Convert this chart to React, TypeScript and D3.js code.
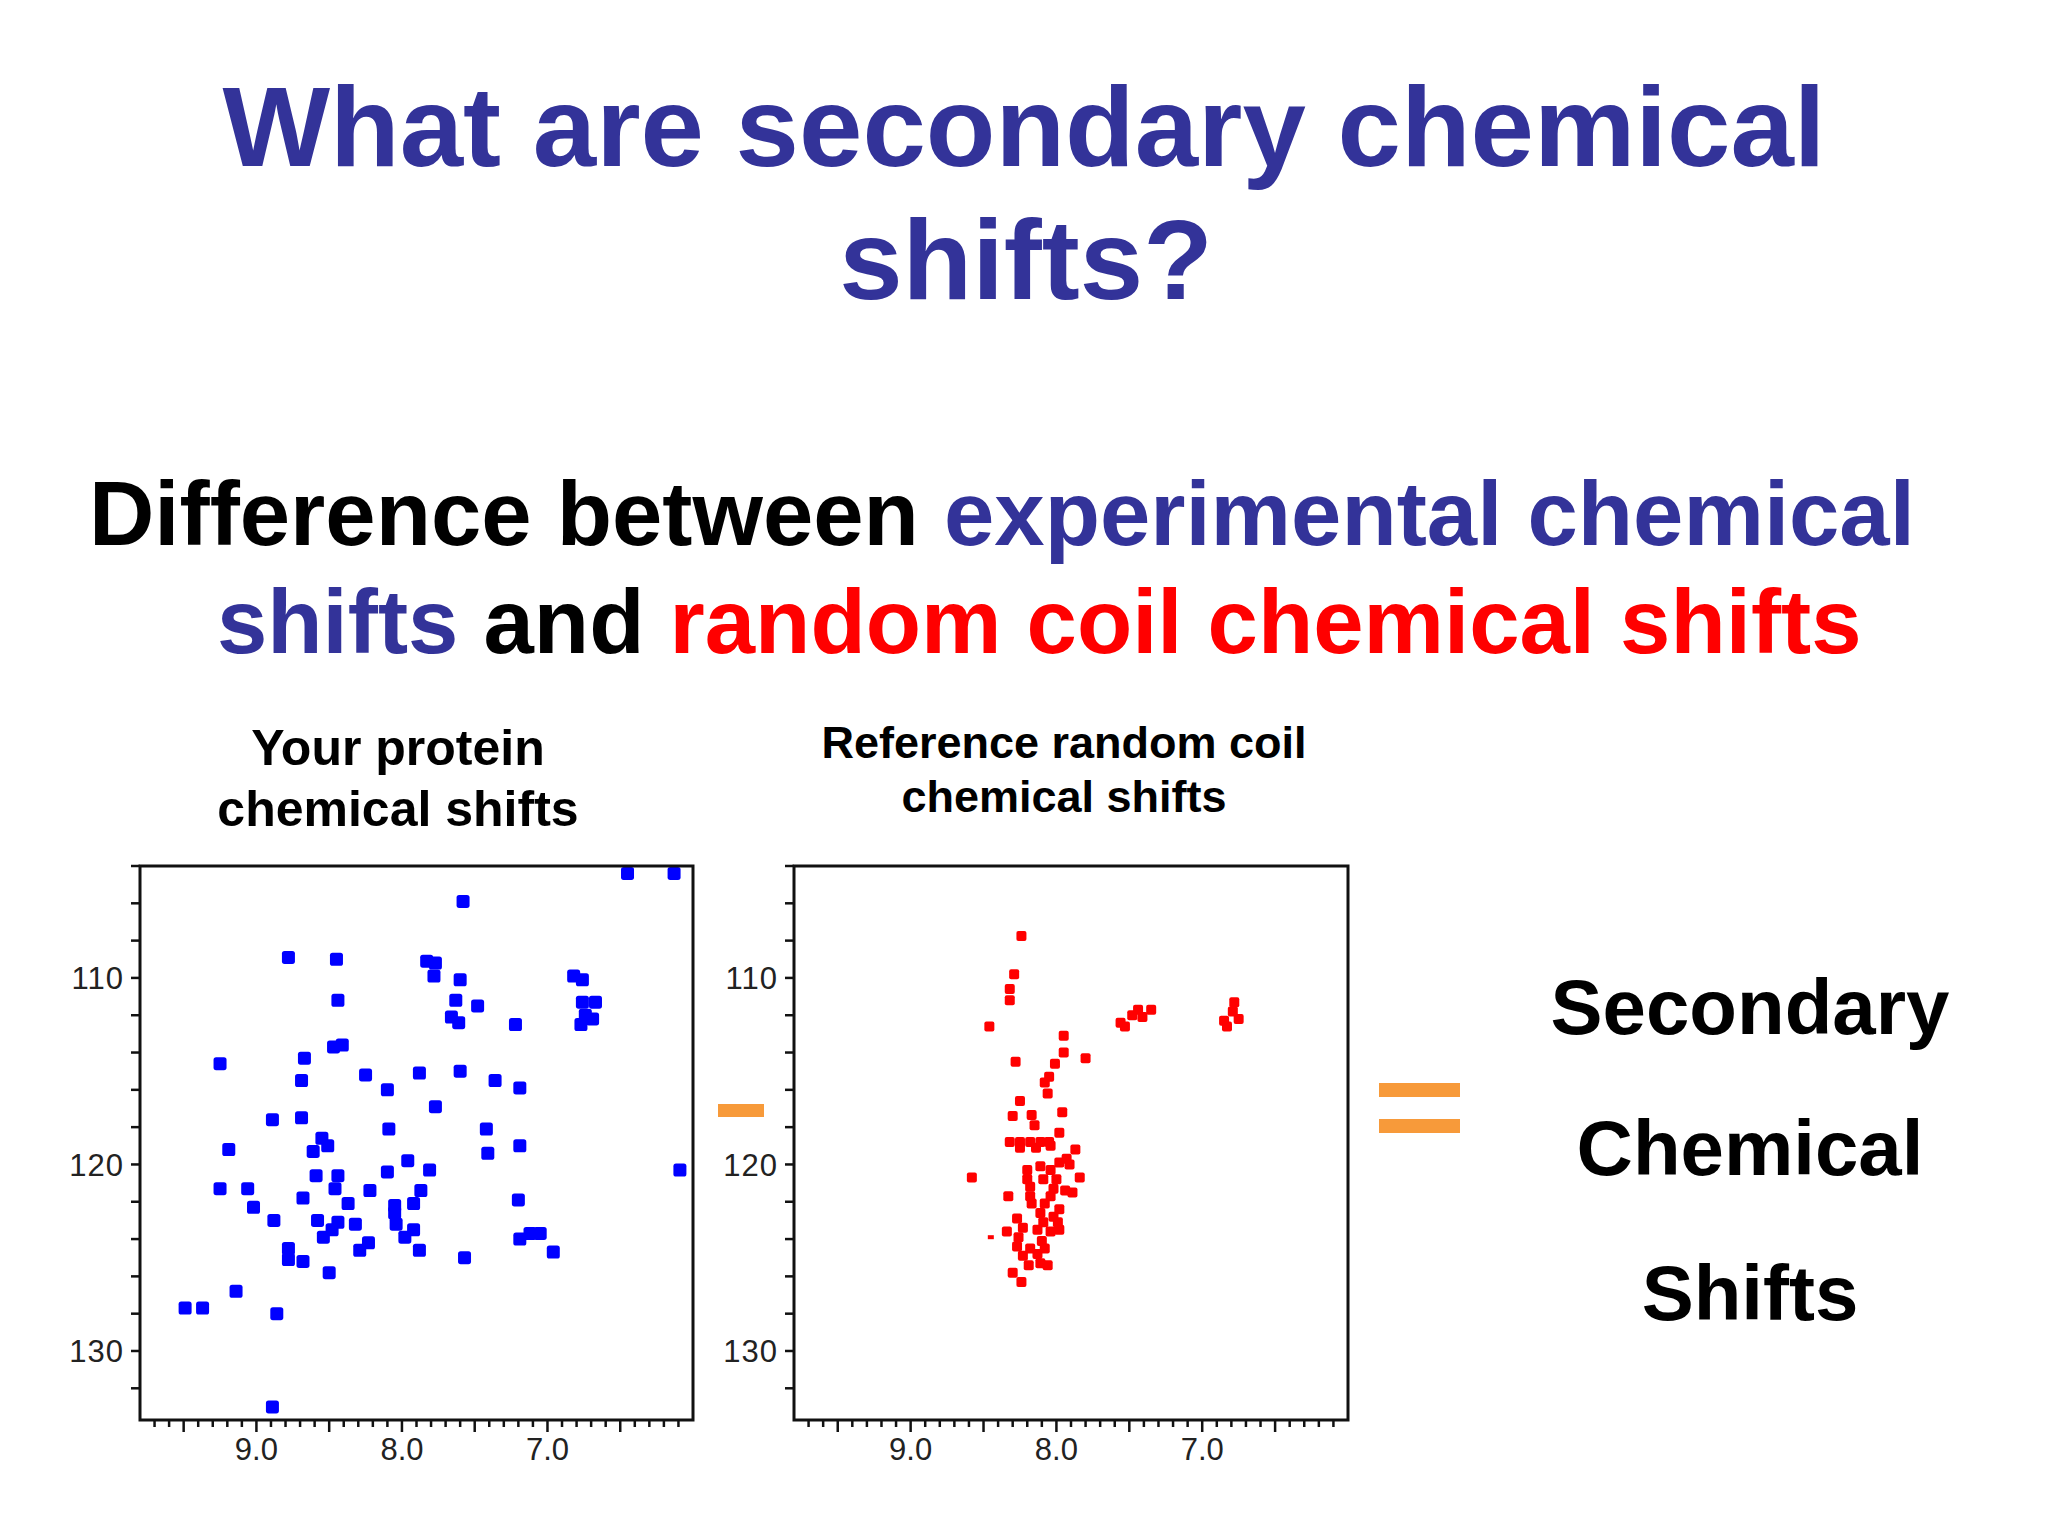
import React from 'react';
import * as d3 from 'd3';

// 1H (ppm), 15N (ppm) peak positions
const proteinPeaks: [number, number][] = [
  [6.45, 104.4], [6.13, 104.4], [7.58, 105.9], [8.78, 108.9], [8.45, 109.0],
  [7.83, 109.1], [7.77, 109.2], [7.78, 109.9], [7.6, 110.1], [6.82, 109.9],
  [6.76, 110.1], [8.44, 111.2], [7.63, 111.2], [7.48, 111.5], [7.66, 112.1],
  [7.61, 112.4], [7.22, 112.5], [6.76, 111.3], [6.67, 111.3], [6.74, 112.0],
  [6.69, 112.2], [6.77, 112.5], [8.47, 113.7], [8.41, 113.6], [9.25, 114.6],
  [8.67, 114.3], [8.25, 115.2], [8.69, 115.5], [7.88, 115.1], [7.6, 115.0],
  [7.36, 115.5], [7.19, 115.9], [8.1, 116.0], [7.77, 116.9], [8.89, 117.6],
  [8.69, 117.5], [8.09, 118.1], [7.42, 118.1], [8.55, 118.6], [8.51, 119.0],
  [8.61, 119.3], [9.19, 119.2], [7.19, 119.0], [7.41, 119.4], [7.96, 119.8],
  [7.81, 120.3], [8.1, 120.4], [8.59, 120.6], [8.44, 120.6], [9.25, 121.3],
  [9.06, 121.3], [8.46, 121.3], [8.22, 121.4], [7.87, 121.4], [9.02, 122.3],
  [8.68, 121.8], [8.37, 122.1], [7.92, 122.1], [8.05, 122.2], [8.05, 122.6],
  [7.2, 121.9], [8.88, 123.0], [8.58, 123.0], [8.44, 123.1], [8.32, 123.2],
  [8.04, 123.2], [8.48, 123.5], [8.54, 123.9], [7.92, 123.5], [7.98, 123.9],
  [7.19, 124.0], [7.12, 123.7], [7.05, 123.7], [8.23, 124.2], [8.29, 124.6],
  [7.88, 124.6], [8.78, 124.5], [8.78, 125.1], [8.68, 125.2], [7.57, 125.0],
  [6.96, 124.7], [8.5, 125.8], [9.14, 126.8], [9.49, 127.7], [9.37, 127.7],
  [8.86, 128.0], [8.89, 133.0], [6.09, 120.3],
];

const randomCoilPeaks: [number, number][] = [
  // upper stray peaks
  [8.24, 107.75], [8.29, 109.8], [8.32, 110.6], [8.32, 111.2], [8.46, 112.6],
  [7.95, 113.1], [7.95, 114.0], [7.8, 114.3], [8.28, 114.5], [8.01, 114.6],
  [8.05, 115.3], [8.08, 115.6], [8.06, 116.2], [8.25, 116.6],
  [8.3, 117.4], [8.17, 117.35], [8.15, 117.9], [7.96, 117.2], [7.98, 118.3],
  // main cluster
  [8.32, 118.8], [8.25, 118.8], [8.18, 118.8], [8.11, 118.8], [8.05, 118.8],
  [8.25, 119.1], [8.14, 119.1], [8.04, 119.0], [7.87, 119.2], [7.93, 119.7],
  [7.98, 119.9], [7.91, 120.0], [8.58, 120.7], [7.84, 120.7],
  [8.2, 120.3], [8.11, 120.1], [8.04, 120.3], [8.2, 120.8], [8.09, 120.8],
  [8.0, 120.8], [8.18, 121.2], [8.02, 121.3], [8.33, 121.7], [8.18, 121.7],
  [8.04, 121.7], [7.94, 121.4], [7.89, 121.5], [8.17, 122.1], [8.08, 122.1],
  [7.98, 122.4], [8.11, 122.6], [8.02, 122.8], [8.27, 122.9], [8.09, 123.1],
  [7.99, 123.1], [8.23, 123.4], [8.34, 123.6], [8.13, 123.5], [8.04, 123.6],
  [7.98, 123.5], [8.26, 123.9], [8.1, 124.1], [8.27, 124.4], [8.18, 124.5],
  [8.08, 124.5], [8.23, 124.9], [8.13, 124.8], [8.19, 125.4], [8.11, 125.3],
  [8.06, 125.4], [8.3, 125.8], [8.24, 126.3],
  // glycine / side-chain region
  [7.56, 112.4], [7.48, 112.0], [7.44, 111.7], [7.35, 111.7], [7.53, 112.6],
  [7.41, 112.1], [6.85, 112.3], [6.79, 111.8], [6.75, 112.2], [6.83, 112.6],
  [6.78, 111.3],
];
const tinyPeaks: [number, number][] = [[8.45, 123.9]];

const hLabels = [9.0, 8.0, 7.0];
const nLabels = [110, 120, 130];
const hDomain = [9.8, 6.0];
const nDomain = [104, 133.7];

const BLUE = '#333399';
const ORANGE = '#f79a3a';
const SANS = '"Liberation Sans", Arial, sans-serif';

type PanelProps = {
  left: number; right: number; top: number; bottom: number;
  peaks: [number, number][]; color: string; size: number;
  extra?: [number, number][];
};

const Panel = ({ left, right, top, bottom, peaks, color, size, extra = [] }: PanelProps) => {
  const x = d3.scaleLinear().domain(hDomain).range([left, right]);
  const y = d3.scaleLinear().domain(nDomain).range([top, bottom]);
  const xTicks = d3.range(61, 98).map(v => v / 10);
  const yTicks = d3.range(104, 133, 2);

  return (
    <g>
      {peaks.map((d, i) => (
        <rect key={i} x={x(d[0]) - size / 2} y={y(d[1]) - size / 2}
          width={size} height={size} rx={size * 0.2} fill={color} />
      ))}
      {extra.map((d, i) => (
        <rect key={'e' + i} x={x(d[0]) - 3} y={y(d[1]) - 2} width={6} height={4} fill={color} />
      ))}
      <rect x={left} y={top} width={right - left} height={bottom - top}
        fill="none" stroke="#111" strokeWidth={3} />
      {yTicks.map(t => (
        <line key={t} x1={left - 9} x2={left} y1={y(t)} y2={y(t)} stroke="#111" strokeWidth={2.5} />
      ))}
      {xTicks.map(t => {
        const major = Math.round(t * 10) % 5 === 0;
        return (
          <line key={t} x1={x(t)} x2={x(t)} y1={bottom} y2={bottom + (major ? 12 : 7)}
            stroke="#111" strokeWidth={2.5} />
        );
      })}
      {nLabels.map(t => (
        <text key={t} x={left - 16} y={y(t)} dy="0.36em" textAnchor="end"
          fontFamily={SANS} fontSize={31} fill="#222" letterSpacing={1}>{t}</text>
      ))}
      {hLabels.map(t => (
        <text key={t} x={x(t)} y={bottom + 40} textAnchor="middle"
          fontFamily={SANS} fontSize={31} fill="#222">{t.toFixed(1)}</text>
      ))}
    </g>
  );
};

export default function App() {
  return (
    <svg width={2048} height={1536} style={{ position: 'absolute', left: 0, top: 0, background: '#fff' }}>
      <rect width={2048} height={1536} fill="#fff" />
      <g fontFamily={SANS} fontWeight="bold">
        <text x={1024} y={166} textAnchor="middle" fontSize={114} fill={BLUE}>What are secondary chemical</text>
        <text x={1026} y={299} textAnchor="middle" fontSize={114} fill={BLUE}>shifts?</text>

        <text x={89} y={545} fontSize={90.5}>
          <tspan fill="#000">Difference between </tspan>
          <tspan fill={BLUE}>experimental chemical</tspan>
        </text>
        <text x={217} y={653} fontSize={90.5}>
          <tspan fill={BLUE}>shifts </tspan>
          <tspan fill="#000">and </tspan>
          <tspan fill="#ff0000">random coil chemical shifts</tspan>
        </text>

        <text x={398} y={765} textAnchor="middle" fontSize={50}>Your protein</text>
        <text x={398} y={826} textAnchor="middle" fontSize={50}>chemical shifts</text>
        <text x={1064} y={758} textAnchor="middle" fontSize={45}>Reference random coil</text>
        <text x={1064} y={812} textAnchor="middle" fontSize={45}>chemical shifts</text>

        <text x={1750} y={1034} textAnchor="middle" fontSize={78}>Secondary</text>
        <text x={1750} y={1175} textAnchor="middle" fontSize={78}>Chemical</text>
        <text x={1750} y={1320} textAnchor="middle" fontSize={78}>Shifts</text>
      </g>

      <Panel left={140} right={693} top={866} bottom={1420}
        peaks={proteinPeaks} color="#0000ff" size={13} />
      <Panel left={794} right={1348} top={866} bottom={1420}
        peaks={randomCoilPeaks} color="#ff0000" size={10} extra={tinyPeaks} />

      <rect x={718} y={1104} width={46} height={13} fill={ORANGE} />
      <rect x={1379} y={1083} width={81} height={14} fill={ORANGE} />
      <rect x={1379} y={1119} width={81} height={14} fill={ORANGE} />
    </svg>
  );
}
